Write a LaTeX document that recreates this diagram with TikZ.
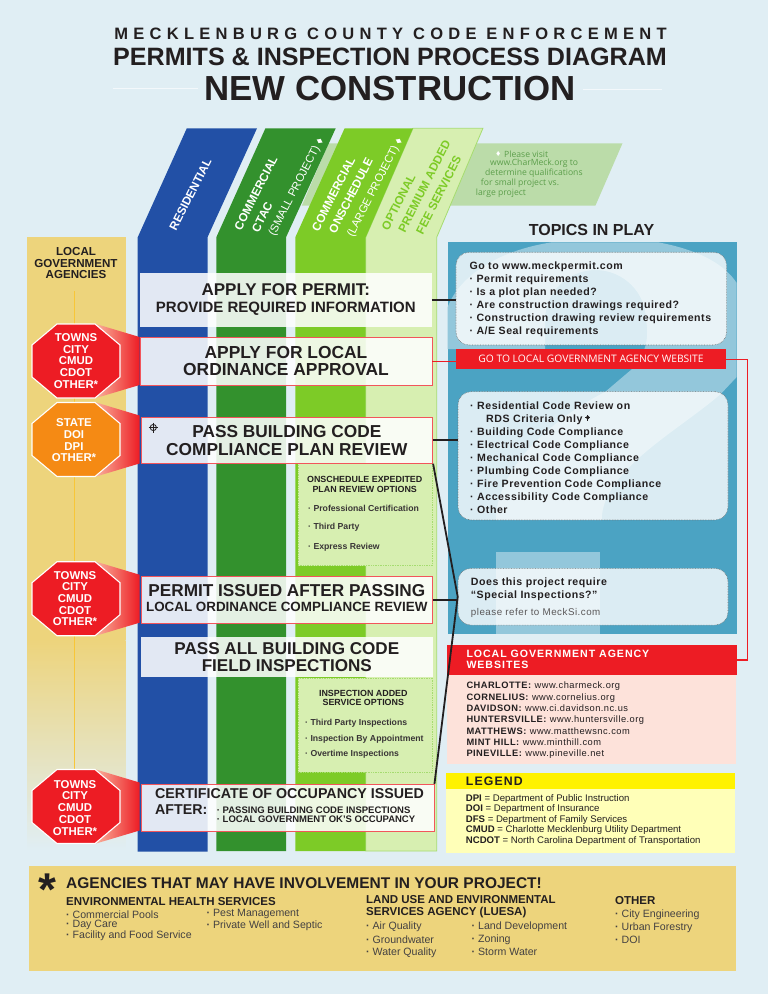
\documentclass[tikz,border=0pt]{standalone}
\usepackage{fontspec}
\setmainfont{Liberation Sans}
\newfontfamily\trkA[LetterSpace=32]{Liberation Sans}
\newfontfamily\trkB[LetterSpace=5]{Liberation Sans}
\newfontfamily\trkC[LetterSpace=9]{Liberation Sans}
\newfontfamily\notefont{Open Sans}
\usetikzlibrary{calc}
\definecolor{bgc}{HTML}{E0EEF4}
\definecolor{ink}{HTML}{231F20}
\definecolor{bluec}{HTML}{2250A6}
\definecolor{greenc}{HTML}{33912D}
\definecolor{limec}{HTML}{7DCB27}
\definecolor{palec}{HTML}{D7EFB1}
\definecolor{edgec}{HTML}{A6DC70}
\definecolor{notec}{HTML}{BBDCA9}
\definecolor{notet}{HTML}{5C9E4B}
\definecolor{agc}{HTML}{EDD47C}
\definecolor{agl}{HTML}{F8C637}
\definecolor{redc}{HTML}{ED1C24}
\definecolor{orangec}{HTML}{F58A14}
\definecolor{salmon}{HTML}{F9B09A}
\definecolor{panelc}{HTML}{4BA3C3}
\definecolor{swirl}{HTML}{93C7DB}
\definecolor{pinkc}{HTML}{FDE2DA}
\definecolor{yelc}{HTML}{FFF200}
\definecolor{yelb}{HTML}{FFFFB8}
\newcommand{\fs}[2]{\fontsize{#1}{#2}\selectfont}
\newcommand{\bdot}{\textbf{·}\ }
\newcommand{\octa}[3]{%
  \shade[left color=salmon,middle color=salmon!50!redc,right color=redc]
    (#1+20,#2-37) -- (139.5,#2-24) -- (139.5,#2+24) -- (#1+20,#2+37) -- cycle;
  \draw[white,line width=1.1,fill=#3]
    (#1-19,#2-37) -- (#1+19,#2-37) -- (#1+44,#2-16) -- (#1+44,#2+16)
    -- (#1+19,#2+37) -- (#1-19,#2+37) -- (#1-44,#2+16) -- (#1-44,#2-16) -- cycle;}
\newcommand{\crosshair}[3]{%
  \draw[ink,line width=.8] (#1,#2) circle[radius=#3];
  \draw[ink,line width=.8] (#1-1.5*#3,#2) -- (#1+1.5*#3,#2) (#1,#2-1.5*#3) -- (#1,#2+1.9*#3);}
\tikzset{
  pbox/.style={inner sep=0,fill=white,fill opacity=.87,text opacity=1,draw opacity=1,
    align=center,text=ink},
  rbox/.style={pbox,draw=redc!75!white,line width=.9},
  optbox/.style={inner sep=0,fill=palec,draw=edgec,densely dotted,line width=.7},
  opttext/.style={inner sep=0,text=ink,font=\bfseries,align=left},
  optitem/.style={opttext,anchor=west,font=\bfseries\fs{8.7}{10},text=ink!90},
  rnd/.style={inner sep=0,rounded corners=13,fill=white,fill opacity=.8,text opacity=1,
    draw=black!55,draw opacity=1,densely dotted,line width=.6},
  rtext/.style={inner sep=0,anchor=north west,align=left,text=ink},
  octtext/.style={inner sep=0,text=white,font=\bfseries\fs{11.4}{11.7},align=center},
  col/.style={inner sep=0,rotate=63,anchor=west,text=white,font=\bfseries\fs{11.8}{12}},
  colg/.style={col,text=limec},
  colt/.style={col,font=\fs{11.2}{12}},
  nt/.style={inner sep=0,anchor=west,text=notet,font=\notefont\fs{8.6}{9}},
  bot/.style={inner sep=0,anchor=west,text=ink!85,font=\fs{10.6}{11}},
  both/.style={inner sep=0,anchor=west,text=ink,font=\bfseries\fs{11.5}{11.7},align=left},
  blk/.style={draw=ink,line width=1.8},
  redl/.style={draw=redc,line width=1.4}
}
\begin{document}
\begin{tikzpicture}[x=1pt,y=-1pt]
\useasboundingbox (0,0) rectangle (768,994);
\fill[bgc] (0,0) rectangle (768,994);
% title
\node[inner sep=0,text=ink,font=\trkA\bfseries\fs{16.5}{16}] (t1) at (390.5,33.5) {MECKLENBURG COUNTY CODE ENFORCEMENT};
\node[inner sep=0,text=ink,font=\bfseries\fs{25.1}{25}] (t2) at (390,56.5) {PERMITS \& INSPECTION PROCESS DIAGRAM};
\node[inner sep=0,text=ink,font=\bfseries\fs{34.8}{34}] (t3) at (390,88.5) {NEW CONSTRUCTION};
\draw[white!60!bgc,line width=.5] (113,88) -- (198,88) (583,89) -- (662,89);
% note parallelogram
\fill[notec] (328.6,143.3) -- (622.5,143.3) -- (595.4,205.7) -- (301.8,205.7) -- cycle;
\node[nt,text=white,font=\fs{8.6}{9}] (nd) at (496,154) {♦};
\node[nt] (n1) at (504,154) {Please visit};
\node[nt] (n2) at (490,163.7) {www.CharMeck.org to};
\node[nt] (n3) at (485,173.5) {determine qualifications};
\node[nt] (n4) at (480.7,183.3) {for small project vs.};
\node[nt] (n5) at (475.7,193) {large project};
% columns
\fill[bluec] (186.8,128.3) -- (257,128.3) -- (207.5,237.3) -- (207.5,851.7) -- (137.7,851.7) -- (137.7,237.3) -- cycle;
\fill[greenc] (265.4,128.3) -- (335.7,128.3) -- (286,237.3) -- (286,851) -- (216.3,851) -- (216.3,237.3) -- cycle;
\draw[edgec,line width=.8,fill=palec] (413,128.3) -- (482.9,128.3) -- (436.7,237.3) -- (436.7,851) -- (365.7,851) -- (365.7,237.3) -- cycle;
\fill[limec] (344.6,128.3) -- (413,128.3) -- (365.7,237.3) -- (365.7,851) -- (295.3,851) -- (295.3,237.3) -- cycle;
% column labels
\node[col] (c0) at (172.5,229.5) {RESIDENTIAL};
\node[col] (c1) at (237.4,229.5) {COMMERCIAL};
\node[col] (c2) at (254.8,231.5) {CTAC};
\node[colt] (c3) at (272,235.5) {(SMALL PROJECT) ♦};
\node[col] (c4) at (315,230.5) {COMMERCIAL};
\node[col] (c5) at (332,232.5) {ONSCHEDULE};
\node[colt] (c6) at (350.5,236.5) {(LARGE PROJECT) ♦};
\node[colg] (c7) at (384.6,229.5) {OPTIONAL};
\node[colg] (c8) at (401.4,231.5) {PREMIUM ADDED};
\node[colg] (c9) at (419.2,233.5) {FEE SERVICES};
% topics
\node[inner sep=0,text=ink,font=\bfseries\fs{16}{16}] (tp) at (591.5,230) {TOPICS IN PLAY};
% agency column
\fill[agc] (27,237) rectangle (125.7,640);
\shade[top color=agc,bottom color=bgc] (27,640) rectangle (125.7,850);
\node[inner sep=0,text=ink,font=\bfseries\fs{11.6}{11.7},align=center] (ag) at (76,263) {LOCAL\\GOVERNMENT\\AGENCIES};
\draw[agl,line width=1] (74.7,291) -- (74.7,775);
\octa{76}{361}{redc}
\octa{76}{439.5}{orangec}
\octa{76}{598.7}{redc}
\octa{76}{806.5}{redc}
\node[octtext] (o1) at (76,361) {TOWNS\\CITY\\CMUD\\CDOT\\OTHER*};
\node[octtext] (o2) at (74,440.3) {STATE\\DOI\\DPI\\OTHER*};
\node[octtext] (o3) at (75,598.5) {TOWNS\\CITY\\CMUD\\CDOT\\OTHER*};
\node[octtext] (o4) at (75,807.7) {TOWNS\\CITY\\CMUD\\CDOT\\OTHER*};
% option boxes
\node[optbox,minimum width=134,minimum height=102.5] (op1) at (365,514.5) {};
\node[optbox,minimum width=134.5,minimum height=94] (op2) at (365.3,725) {};
\node[opttext,font=\bfseries\fs{8.9}{9.7},align=center] (op1t) at (364.7,484.5) {ONSCHEDULE EXPEDITED\\PLAN REVIEW OPTIONS};
\node[optitem] (op1a) at (308,508.3) {· Professional Certification};
\node[optitem] (op1b) at (308,527.7) {· Third Party};
\node[optitem] (op1c) at (308,547) {· Express Review};
\node[opttext,font=\bfseries\fs{8.9}{9.7},align=center] (op2t) at (363.3,698) {INSPECTION ADDED\\SERVICE OPTIONS};
\node[optitem] (op2a) at (305,723.3) {· Third Party Inspections};
\node[optitem] (op2b) at (305,739) {· Inspection By Appointment};
\node[optitem] (op2c) at (305,754.3) {· Overtime Inspections};
% process boxes
\node[pbox,minimum width=291.7,minimum height=54,font=\bfseries\fs{17}{16.5}] (b1) at (285.8,299.7) {APPLY FOR PERMIT:\\\fs{15}{16.5}PROVIDE REQUIRED INFORMATION};
\node[rbox,minimum width=292,minimum height=47.7,font=\bfseries\fs{17.4}{17}] (b2) at (286,361.2) {APPLY FOR LOCAL\\ORDINANCE APPROVAL};
\node[rbox,minimum width=291.7,minimum height=46,font=\bfseries\fs{17.3}{17.6}] (b3) at (286.8,440.3) {PASS BUILDING CODE\\COMPLIANCE PLAN REVIEW};
\crosshair{153.3}{427.5}{3.1}
\node[rbox,minimum width=291.7,minimum height=46.6] (b4) at (286.8,600) {};
\node[opttext,align=center,font=\bfseries\fs{17.2}{15}] (b4t) at (286.8,598.3) {PERMIT ISSUED AFTER PASSING\\\fs{13.4}{15}LOCAL ORDINANCE COMPLIANCE REVIEW};
\node[pbox,minimum width=291.7,minimum height=40.6,font=\bfseries\fs{17.1}{17.4}] (b5) at (286.8,657) {PASS ALL BUILDING CODE\\FIELD INSPECTIONS};
\node[rbox,minimum width=293,minimum height=46.7] (b6) at (287.5,807.7) {};
\node[opttext,anchor=west,font=\bfseries\fs{14.25}{15}] (b6a) at (155,794) {CERTIFICATE OF OCCUPANCY ISSUED};
\node[opttext,anchor=west,font=\bfseries\fs{14.25}{15}] (b6b) at (155,810) {AFTER:};
\node[opttext,anchor=north west,font=\bfseries\fs{9.5}{9.8}] (b6c) at (216.7,806.2) {· PASSING BUILDING CODE INSPECTIONS\\· LOCAL GOVERNMENT OK'S OCCUPANCY};
% panel
\fill[panelc] (447.7,242.3) rectangle (736.7,633.7);
\fill[swirl] (447.7,307) .. controls (460,275) and (500,250) .. (552,242.3) -- (658,242.3)
  .. controls (700,250) and (725,265) .. (736.7,283) -- (736.7,377) -- (721.7,393)
  .. controls (680,430) and (601.7,470) .. (601.7,520) -- (496,520)
  .. controls (496,470) and (550,420) .. (605,392) -- (631.7,369.3)
  .. controls (650,350) and (648,330) .. (646,320)
  arc[start angle=0,end angle=-180,x radius=50.5,y radius=50] -- (545,349)
  -- (447.7,349) -- cycle;
\fill[swirl] (495.7,551.7) rectangle (600,633.7);
\node[rnd,minimum width=270.7,minimum height=92.7] (ra) at (591.3,298.6) {};
\node[rtext,font=\trkB\bfseries\fs{10.6}{13}] (rat) at (469.3,261.5) {Go to www.meckpermit.com\\· Permit requirements\\· Is a plot plan needed?\\· Are construction drawings required?\\· Construction drawing review requirements\\· A/E Seal requirements};
\node[inner sep=0,fill=redc,minimum width=270,minimum height=20,text=white,font=\notefont\fs{10.3}{10}] (bar) at (591,359.3) {GO TO LOCAL GOVERNMENT AGENCY WEBSITE};
\node[rnd,minimum width=270,minimum height=128.3] (rb) at (593,455.8) {};
\node[rtext,font=\trkB\bfseries\fs{10.6}{13}] (rbt) at (470,401.7) {· Residential Code Review on\\\hspace*{16pt}RDS Criteria Only\\· Building Code Compliance\\· Electrical Code Compliance\\· Mechanical Code Compliance\\· Plumbing Code Compliance\\· Fire Prevention Code Compliance\\· Accessibility Code Compliance\\· Other};
\crosshair{587.7}{417.5}{1.6}
\node[rnd,minimum width=270,minimum height=56.7] (rc) at (593,596.7) {};
\node[rtext,font=\trkB\bfseries\fs{10.6}{13}] (rct) at (470.7,577.8) {Does this project require\\“Special Inspections?”};
\node[inner sep=0,anchor=west,text=ink!75,font=\trkB\fs{9.8}{11}] (rcu) at (470.7,613.3) {please refer to MeckSi.com};
% websites
\fill[pinkc] (447.3,675) rectangle (736,764);
\node[inner sep=0,fill=redc,minimum width=289.4,minimum height=30] (rh) at (592,660) {};
\node[inner sep=0,anchor=north west,align=left,text=white,font=\trkC\bfseries\fs{10.6}{11.3}] (rht) at (466.3,649.8) {LOCAL GOVERNMENT AGENCY\\WEBSITES};
\node[rtext,font=\trkB\fs{9.3}{11.33}] (wt) at (466.3,682) {\textbf{CHARLOTTE:} www.charmeck.org\\\textbf{CORNELIUS:} www.cornelius.org\\\textbf{DAVIDSON:} www.ci.davidson.nc.us\\\textbf{HUNTERSVILLE:} www.huntersville.org\\\textbf{MATTHEWS:} www.matthewsnc.com\\\textbf{MINT HILL:} www.minthill.com\\\textbf{PINEVILLE:} www.pineville.net};
% legend
\fill[yelb] (446,789) rectangle (735.3,852.7);
\node[inner sep=0,fill=yelc,minimum width=289.3,minimum height=15.7] (lh) at (590.7,781.2) {};
\node[inner sep=0,anchor=west,text=ink,font=\trkC\bfseries\fs{12.3}{12}] (lt) at (465.7,781.7) {LEGEND};
\node[rtext,font=\fs{9.6}{10.6}] (ll) at (465.7,794) {\textbf{DPI} = Department of Public Instruction\\\textbf{DOI} = Department of Insurance\\\textbf{DFS} = Department of Family Services\\\textbf{CMUD} = Charlotte Mecklenburg Utility Department\\\textbf{NCDOT} = North Carolina Department of Transportation};
% connectors
\coordinate (rr) at (747.3,500);
\draw[blk] (b1.east) -- (b1.east -| ra.west);
\draw[blk] (b3.east) -- (b3.east -| rb.west);
\draw[blk] (b4.east) -- (b4.east -| rc.west);
\draw[blk] (b3.south east) -- (rc.west) -- (b6.north east);
\draw[redl] (b2.east) -- (b2.east -| bar.west);
\draw[redl] (bar.east) -| (rr) |- (rh.east);
% bottom band
\fill[agc] (29,866) rectangle (736,971);
\node[inner sep=0,text=ink,font=\bfseries\fs{46}{46}] (star) at (47.5,890) {*};
\node[inner sep=0,anchor=west,text=ink,font=\bfseries\fs{15.5}{15}] (bh) at (66,882.7) {AGENCIES THAT MAY HAVE INVOLVEMENT IN YOUR PROJECT!};
\node[both] (e0) at (66,901.3) {ENVIRONMENTAL HEALTH SERVICES};
\node[bot] (e1) at (66,914.3) {\bdot Commercial Pools};
\node[bot] (e2) at (66,925.3) {\bdot Day Care};
\node[bot] (e3) at (66,936) {\bdot Facility and Food Service};
\node[bot] (e4) at (206.4,914.3) {\bdot Pest Management};
\node[bot] (e5) at (206.4,925.3) {\bdot Private Well and Septic};
\node[both,anchor=north west] (l0) at (366,895.5) {LAND USE AND ENVIRONMENTAL\\SERVICES AGENCY (LUESA)};
\node[bot] (l1) at (366,926.3) {\bdot Air Quality};
\node[bot] (l2) at (366,939.3) {\bdot Groundwater};
\node[bot] (l3) at (366,952.3) {\bdot Water Quality};
\node[bot] (l4) at (471.5,926.3) {\bdot Land Development};
\node[bot] (l5) at (471.5,939.3) {\bdot Zoning};
\node[bot] (l6) at (471.5,952.3) {\bdot Storm Water};
\node[both] (x0) at (615,901) {OTHER};
\node[bot] (x1) at (615,914.3) {\bdot City Engineering};
\node[bot] (x2) at (615,927.3) {\bdot Urban Forestry};
\node[bot] (x3) at (615,940.3) {\bdot DOI};
\end{tikzpicture}
\end{document}
